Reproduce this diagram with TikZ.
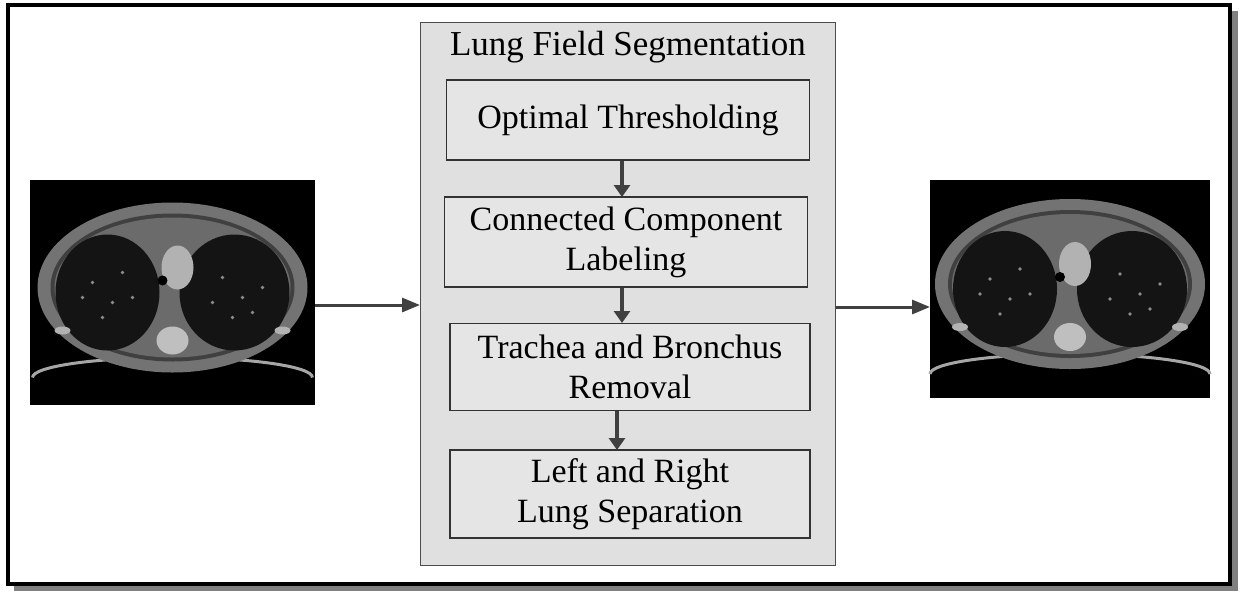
\documentclass[tikz,border=0pt]{standalone}
\usepackage{fontspec}
\setmainfont{Liberation Serif}
\usetikzlibrary{arrows.meta}
\begin{document}
\begin{tikzpicture}[x=1pt,y=-1pt,
  stage/.style={draw=black!80,line width=1.5pt,fill=black!10,align=center,font=\fontsize{34}{40}\selectfont,inner sep=0pt},
  flow/.style={line width=3pt,draw=black!75,-{Triangle[length=18pt,width=14pt]}},
  down/.style={line width=4pt,draw=black!75,-{Triangle[length=12pt,width=16pt]}}]
\useasboundingbox (0,0) rectangle (1245,603);
\fill[white] (0,0) rectangle (1245,603);
\fill[black!50] (14,11) rectangle (1238,591);
\draw[line width=4pt,fill=white] (8,5) rectangle (1230,584);
\node[draw=black!70,line width=1.2pt,fill=black!12,minimum width=415pt,minimum height=543pt,anchor=north west] (outer) at (420,22) {};
\node[font=\fontsize{35}{40}\selectfont,anchor=north] (title) at (628,28) {Lung Field Segmentation};
\node[stage,minimum width=363pt,minimum height=80pt] (s1) at (628,120) {Optimal Thresholding};
\node[stage,minimum width=363pt,minimum height=90pt] (s2) at (626,242) {Connected Component\\Labeling};
\node[stage,minimum width=360pt,minimum height=87pt] (s3) at (630,367) {Trachea and Bronchus\\Removal};
\node[stage,minimum width=360pt,minimum height=88pt] (s4) at (630,494) {Left and Right\\Lung Separation};
\draw[down] (s1.south -| 622,0) -- (622,197);
\draw[down] (s2.south -| 622,0) -- (622,323);
\draw[down] (s3.south -| 617,0) -- (617,450);
% CT images
\foreach \n/\xa/\ya/\xb/\yb in {ctl/30/180/315/405, ctr/930/180/1210/398}{
  \node[fill=black,minimum width=\xb-\xa,minimum height=\yb-\ya,inner sep=0pt,anchor=north west] (\n) at (\xa,\ya) {};
  \begin{scope}[shift={({(\xa+\xb)/2},{(\ya+\yb)/2})}]
    \draw[black!35,line width=3pt] (-140,85) arc (180:360:140 and 20);
    \fill[black!55] (0,-5) ellipse (135 and 85);
    \fill[black!75] (0,-5) ellipse (122 and 74);
    \fill[black!58] (0,-5) ellipse (118 and 70);
    \fill[black!92] (-65,0) ellipse (52 and 58);
    \fill[black!92] (62,0) ellipse (55 and 58);
    \fill[black!30] (5,-25) ellipse (16 and 22);
    \fill[black] (-10,-12) circle (5);
    \fill[black!25] (0,48) ellipse (16 and 14);
    \fill[black!30] (-110,38) ellipse (8 and 4);
    \fill[black!30] (110,38) ellipse (8 and 4);
    \foreach \px/\py in {-80/-10,-60/10,-50/-20,-70/25,-90/5,50/-15,70/5,80/20,60/25,90/-5,-40/5,40/10}
      \fill[black!45] (\px,\py) circle (1.8);
  \end{scope}
}
\draw[flow] (ctl.east |- 0,305) -- (outer.west |- 0,305);
\draw[flow] (outer.east |- 0,307) -- (ctr.west |- 0,307);
\end{tikzpicture}
\end{document}
